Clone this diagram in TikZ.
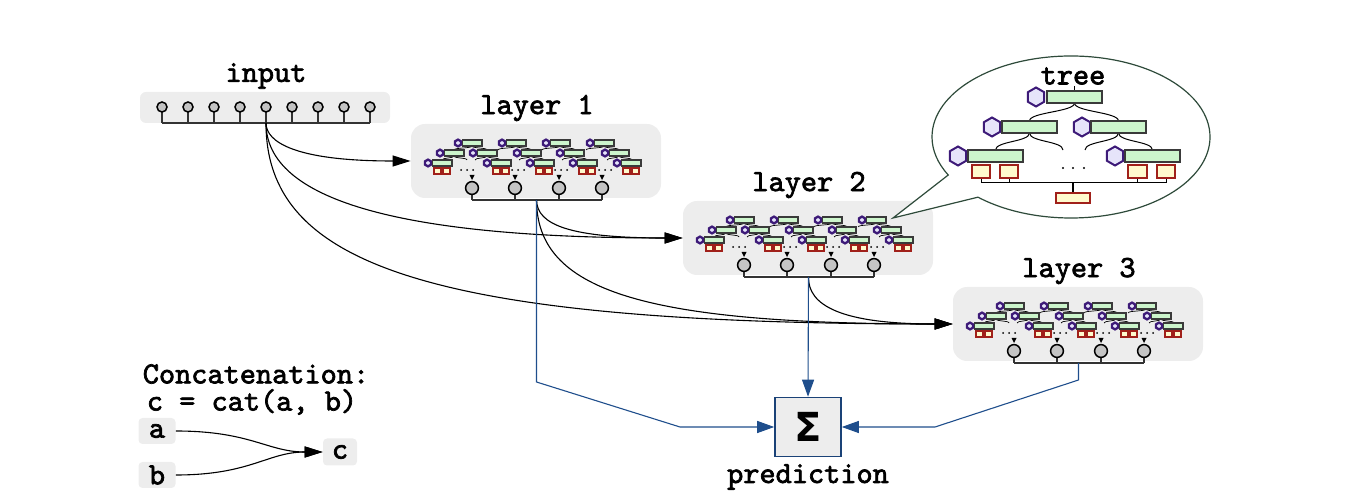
\documentclass[tikz,border=0pt]{standalone}
\usepackage{fontspec}
\newfontfamily\sigmafont{DejaVu Sans}
\newfontfamily\cmono{lmmono10-regular}[Extension=.otf, FakeBold=2.2]
\usetikzlibrary{arrows.meta,shapes.callouts}
\definecolor{boxgray}{HTML}{EDEDED}
\definecolor{hexfill}{HTML}{E6E4FA}
\definecolor{hexline}{HTML}{3D1A78}
\definecolor{greenfill}{HTML}{CCF5CC}
\definecolor{rectline}{HTML}{3A3A3A}
\definecolor{leaffill}{HTML}{FFFACD}
\definecolor{leafline}{HTML}{A0201A}
\definecolor{bluel}{HTML}{1F4E8C}
\definecolor{bubblec}{HTML}{2E4A3A}
\definecolor{circfill}{HTML}{C4C4C4}
\tikzset{
  lbl/.style={font=\fontsize{15.4}{18}\selectfont\cmono, inner sep=0},
  layerbox/.style={fill=boxgray, rounded corners=7pt, minimum width=125pt, minimum height=37pt, inner sep=0},
  inbox/.style={fill=boxgray, rounded corners=3pt, minimum width=125pt, minimum height=15.5pt, inner sep=0},
  varbox/.style={fill=boxgray, rounded corners=2pt, inner sep=0, font=\fontsize{15.4}{18}\selectfont\cmono},
  predbox/.style={fill=boxgray, draw=bluel!85!black, line width=0.8pt, minimum width=33pt, minimum height=29.5pt, inner sep=0},
  incirc/.style={fill=circfill, draw=black, line width=0.75pt},
  stem/.style={draw=black!80, line width=0.6pt},
  mhexs/.style={fill=hexfill, draw=hexline, line width=1.15pt},
  mrect/.style={fill=greenfill, draw=rectline, line width=0.8pt},
  mleaf/.style={fill=leaffill, draw=leafline, line width=0.8pt},
  mline/.style={draw=black, line width=0.35pt},
  bhex/.style={fill=hexfill, draw=hexline, line width=1pt},
  brect/.style={fill=greenfill, draw=rectline, line width=1pt},
  bleaf/.style={fill=leaffill, draw=leafline, line width=0.9pt},
  bline/.style={draw=black, line width=0.5pt},
  blkarr/.style={draw=black, line width=0.55pt, -{Triangle[length=9pt,width=5.5pt]}},
  bluearr/.style={draw=bluel, line width=0.55pt, -{Triangle[length=8.5pt,width=6pt]}},
}
\newcommand\mhex[2]{\path[mhexs] (#1,#2) +(0,-3.4) -- +(2.95,-1.7) -- +(2.95,1.7) -- +(0,3.4) -- +(-2.95,1.7) -- +(-2.95,-1.7) -- cycle;}
\newcommand\mnode[2]{\mhex{#1}{#2}\path[mrect] (#1+4.5,#2-3) rectangle (#1+24,#2+3);}
\newcommand\mleaves[2]{\path[mleaf] (#1+6,#2+5) rectangle (#1+13,#2+11);\path[mleaf] (#1+15,#2+5) rectangle (#1+22,#2+11);}
\newcommand\mbr[4]{\draw[mline] (#1,#2) .. controls (#1,#2+2.5) and (#3,#4-2.5) .. (#3,#4);}
\newcommand\bhexa[2]{\path[bhex] (#1,#2) +(0,-9.5) -- +(8.23,-4.75) -- +(8.23,4.75) -- +(0,9.5) -- +(-8.23,4.75) -- +(-8.23,-4.75) -- cycle;}
\newcommand\bbr[4]{\draw[bline] (#1,#2) .. controls (#1,#2+9) and (#3,#4-9) .. (#3,#4);}
\newcommand\layerblock[4]{%
  \node[layerbox] (#1) at (#2+125,#3+37) {};
  \node[lbl] (#1lbl) at (#2+126,#3-16) {#4};
  \begin{scope}[shift={(#2,#3)}]
    \foreach \a in {47,91,135,179} {\mbr{\a+14}{22}{\a-4}{26}\mbr{\a+14}{22}{\a+29}{26}}
    \foreach \h in {29,62,106,149,194} {\mbr{\h+14}{32}{\h+2}{36}\mbr{\h+14}{32}{\h+27}{36}}
    \foreach \a in {47,91,135,179} {\mnode{\a}{19}}
    \foreach \h in {29,62,106,149,194} {\mnode{\h}{29}}
    \foreach \h in {17,76,119,162,206} {\mnode{\h}{39}\mleaves{\h}{39}}
    \foreach \g in {56,107,150,194} {\foreach \d in {-6,0,6} {\fill (\g+\d,46) circle[radius=0.5pt];}}
    \foreach \c in {61,104,148,191} {
      \fill (\c-2.5,51) -- (\c+2.5,51) -- (\c,56) -- cycle;
      \draw[stem] (\c,70) -- (\c,76);
      \draw[incirc] (\c,64) circle[radius=3.2pt];
    }
    \draw[stem] (61,76) -- (191,76);
    \coordinate (#1out) at (125.5,76);
  \end{scope}}
\begin{document}
\begin{tikzpicture}[x=0.5pt,y=-0.5pt]
\useasboundingbox (0,0) rectangle (1360,496);
% input
\node[lbl] (inlbl) at (266,76) {input};
\node[inbox] (inbox) at (265,107.5) {};
\foreach \i in {0,...,8} {
  \draw[stem] (162+26*\i,112) -- (162+26*\i,123);
  \draw[incirc] (162+26*\i,107) circle[radius=2.5pt];
}
\draw[stem] (162,123) -- (370,123);
\coordinate (inout) at (266,123);
% layers
\layerblock{L1}{411}{124}{layer 1}
\layerblock{L2}{683}{201}{layer 2}
\layerblock{L3}{953}{287}{layer 3}
% bubble
\node[ellipse callout, draw=bubblec, fill=white, line width=0.6pt, minimum width=139pt, minimum height=81pt, inner sep=0, callout absolute pointer={(893,218)}, callout pointer arc=20] (bubble) at (1071,137) {};
\node[lbl] (treelbl) at (1073,76) {tree};
\draw[bline] (1074.5,86) -- (1074.5,91);
\bbr{1074.5}{103}{1029.5}{121}
\bbr{1074.5}{103}{1118.5}{121}
\bbr{1029.5}{133}{995.5}{150}
\bbr{1029.5}{133}{1063}{150}
\bbr{1118.5}{133}{1085}{150}
\bbr{1118.5}{133}{1152.5}{150}
\bhexa{1036}{97}\path[brect] (1047,91) rectangle (1102,103);
\bhexa{992}{127}\path[brect] (1002,121) rectangle (1057,133);
\bhexa{1082}{127}\path[brect] (1091,121) rectangle (1146,133);
\bhexa{958}{156}\path[brect] (968,150) rectangle (1023,162);
\bhexa{1115}{156}\path[brect] (1125,150) rectangle (1180,162);
\foreach \x in {981,1009,1137.5,1166} {\draw[bline] (\x,178) -- (\x,183);}
\draw[bline] (981,183) -- (1166,183);
\draw[draw=black, line width=1pt] (1073,183) -- (1073,193);
\path[bleaf] (972,165) rectangle (990,178);
\path[bleaf] (1000,165) rectangle (1018,178);
\path[bleaf] (1128,165) rectangle (1147,178);
\path[bleaf] (1157,165) rectangle (1175,178);
\path[bleaf] (1056,193) rectangle (1090,203);
\foreach \x in {1063,1073,1084} {\fill (\x,168) circle[radius=0.6pt];}
% prediction
\node[predbox] (pred) at (808,427) {\fontsize{20}{24}\selectfont\sigmafont\bfseries Σ};
\node[lbl] (predlbl) at (808,477) {prediction};
% black connectors
\draw[blkarr] (inout) .. controls (266,142) and (295,161) .. (L1.west);
\draw[blkarr] (inout) .. controls (266,200) and (400,238) .. (L2.west);
\draw[blkarr] (inout) .. controls (266,262) and (420,324) .. (L3.west);
\draw[blkarr] (L1out) .. controls (537,225) and (570,238) .. (L2.west);
\draw[blkarr] (L1out) .. controls (537,290) and (640,324) .. (L3.west);
\draw[blkarr] (L2out) .. controls (808,305) and (840,324) .. (L3.west);
% blue connectors
\draw[bluearr] (L1out) -- (536.5,382) -- (680,427) -- (pred.west);
\draw[bluearr] (L2out) -- (pred.north);
\draw[bluearr] (L3out) -- (1078.5,380) -- (935,427) -- (pred.east);
% legend
\node[lbl] (cattitle) at (256,374) {Concatenation:};
\node[lbl] (catexpr) at (252,402) {c = cat(a, b)};
\node[varbox, minimum width=18.5pt, minimum height=13pt] (va) at (157,431) {a};
\node[varbox, minimum width=18.5pt, minimum height=13pt] (vb) at (157,475) {b};
\node[varbox, minimum width=17pt, minimum height=13.5pt] (vc) at (340,452) {c};
\draw[blkarr] (va.east) .. controls +(75,0) and +(-55,0) .. (vc.west);
\draw[blkarr] (vb.east) .. controls +(75,0) and +(-55,0) .. (vc.west);
\end{tikzpicture}
\end{document}
